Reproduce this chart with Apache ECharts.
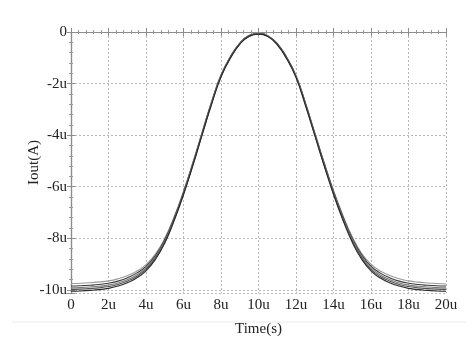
<!DOCTYPE html>
<html>
<head>
<meta charset="utf-8">
<script src="https://cdn.jsdelivr.net/npm/echarts@6/dist/echarts.min.js"></script>
<style>
  html, body { margin: 0; padding: 0; background: #fff; }
  #chart { width: 474px; height: 353px; }
</style>
</head>
<body>
<div id="chart"></div>
<script>
// 时间点 (u s)
const times = [0, 0.5, 1, 1.5, 2, 2.5, 3, 3.5, 4, 4.5, 5, 5.5, 6, 6.5, 7, 7.5, 8, 8.5, 9, 9.5, 10,
  10.5, 11, 11.5, 12, 12.5, 13, 13.5, 14, 14.5, 15, 15.5, 16, 16.5, 17, 17.5, 18, 18.5, 19, 19.5, 20];

// 各条曲线 Iout (uA)
const trace1 = [-9.75, -9.74, -9.72, -9.69, -9.65, -9.57, -9.45, -9.28, -9.02, -8.61, -8.0, -7.16, -6.17, -5.05, -3.86, -2.69, -1.66, -0.95, -0.43, -0.13, -0.05,
  -0.14, -0.44, -0.97, -1.68, -2.73, -3.89, -5.05, -6.14, -7.1, -7.94, -8.58, -9.0, -9.27, -9.44, -9.57, -9.65, -9.7, -9.73, -9.75, -9.77];
const trace2 = [-9.85, -9.84, -9.82, -9.79, -9.74, -9.66, -9.53, -9.35, -9.09, -8.67, -8.05, -7.21, -6.21, -5.09, -3.89, -2.71, -1.68, -0.96, -0.44, -0.14, -0.06,
  -0.15, -0.45, -0.98, -1.7, -2.75, -3.92, -5.08, -6.18, -7.15, -8.0, -8.64, -9.08, -9.35, -9.53, -9.66, -9.74, -9.79, -9.82, -9.84, -9.85];
const trace3 = [-9.92, -9.91, -9.89, -9.86, -9.81, -9.73, -9.6, -9.42, -9.15, -8.72, -8.1, -7.25, -6.25, -5.12, -3.92, -2.74, -1.7, -0.98, -0.45, -0.15, -0.07,
  -0.16, -0.47, -1.0, -1.72, -2.78, -3.95, -5.12, -6.22, -7.2, -8.05, -8.7, -9.14, -9.42, -9.6, -9.73, -9.81, -9.86, -9.89, -9.91, -9.92];
const trace4 = [-9.98, -9.97, -9.95, -9.92, -9.87, -9.79, -9.66, -9.48, -9.2, -8.77, -8.14, -7.28, -6.28, -5.15, -3.95, -2.77, -1.72, -1.0, -0.46, -0.16, -0.08,
  -0.17, -0.48, -1.02, -1.74, -2.81, -3.98, -5.15, -6.26, -7.24, -8.1, -8.75, -9.2, -9.48, -9.66, -9.79, -9.87, -9.92, -9.95, -9.97, -9.98];
const trace5 = [-10.05, -10.04, -10.02, -9.99, -9.94, -9.85, -9.72, -9.54, -9.26, -8.82, -8.19, -7.32, -6.31, -5.18, -3.98, -2.8, -1.75, -1.02, -0.48, -0.17, -0.09,
  -0.18, -0.5, -1.04, -1.77, -2.84, -4.01, -5.19, -6.3, -7.29, -8.15, -8.81, -9.26, -9.54, -9.72, -9.85, -9.94, -9.99, -10.02, -10.04, -10.05];

const traces = [trace1, trace2, trace3, trace4, trace5];
const lineColors = ['#9a9a9a', '#3a3a3a', '#7a7a7a', '#555555', '#2a2a2a'];

const font = 'Liberation Serif';
const unitLabel = v => {
  if (Math.abs(v - Math.round(v)) > 0.01) return '';
  return v === 0 ? '0' : v + 'u';
};

const myChart = echarts.init(document.getElementById('chart'));

// 坐标轴（上下左右四边都有刻度）
const frameAxis = {
  axisLine: { show: true, lineStyle: { color: '#8c8c8c', width: 1.2 } },
  axisTick: { show: true, inside: true, length: 4, lineStyle: { color: '#8c8c8c' } },
  minorTick: { show: true, splitNumber: 5, length: 2, lineStyle: { color: '#9a9a9a' } }
};
const gridLine = { show: true, lineStyle: { color: '#b8b8b8', type: [2, 2], width: 1 } };
const labelStyle = { color: '#222', fontFamily: font, fontSize: 15 };

const options = {
  animation: false,
  grid: { left: 71, right: 28, top: 32, bottom: 60 },
  xAxis: [
    {
      type: 'value', min: 0, max: 20, interval: 2,
      ...frameAxis,
      axisLabel: { ...labelStyle, margin: 5, formatter: unitLabel },
      splitLine: gridLine,
      name: 'Time(s)', nameLocation: 'middle', nameGap: 29, nameMoveOverlap: false,
      nameTextStyle: labelStyle
    },
    {
      type: 'value', position: 'top', min: 0, max: 20, interval: 2,
      ...frameAxis,
      axisLabel: { show: false },
      splitLine: { show: false }
    }
  ],
  yAxis: [
    {
      type: 'value', min: -10.12, max: 0, splitNumber: 5,
      ...frameAxis,
      axisLabel: { ...labelStyle, margin: 4, showMinLabel: false, formatter: unitLabel },
      splitLine: gridLine,
      name: 'Iout(A)', nameLocation: 'middle', nameGap: 29, nameMoveOverlap: false,
      nameTextStyle: labelStyle
    },
    {
      type: 'value', position: 'right', min: -10.12, max: 0, splitNumber: 5,
      ...frameAxis,
      axisLabel: { show: false },
      splitLine: { show: false }
    }
  ],
  // 图下方的浅色分隔线
  graphic: [
    { type: 'line', shape: { x1: 12, y1: 322, x2: 466, y2: 322 }, style: { stroke: '#ebebeb', lineWidth: 1 } }
  ],
  series: traces.map((tr, i) => ({
    type: 'line',
    xAxisIndex: 0,
    yAxisIndex: 0,
    data: times.map((t, k) => [t, tr[k]]),
    smooth: true,
    symbol: 'none',
    clip: false,
    lineStyle: { color: lineColors[i], width: 1.1 }
  }))
};

myChart.setOption(options);
</script>
</body>
</html>
